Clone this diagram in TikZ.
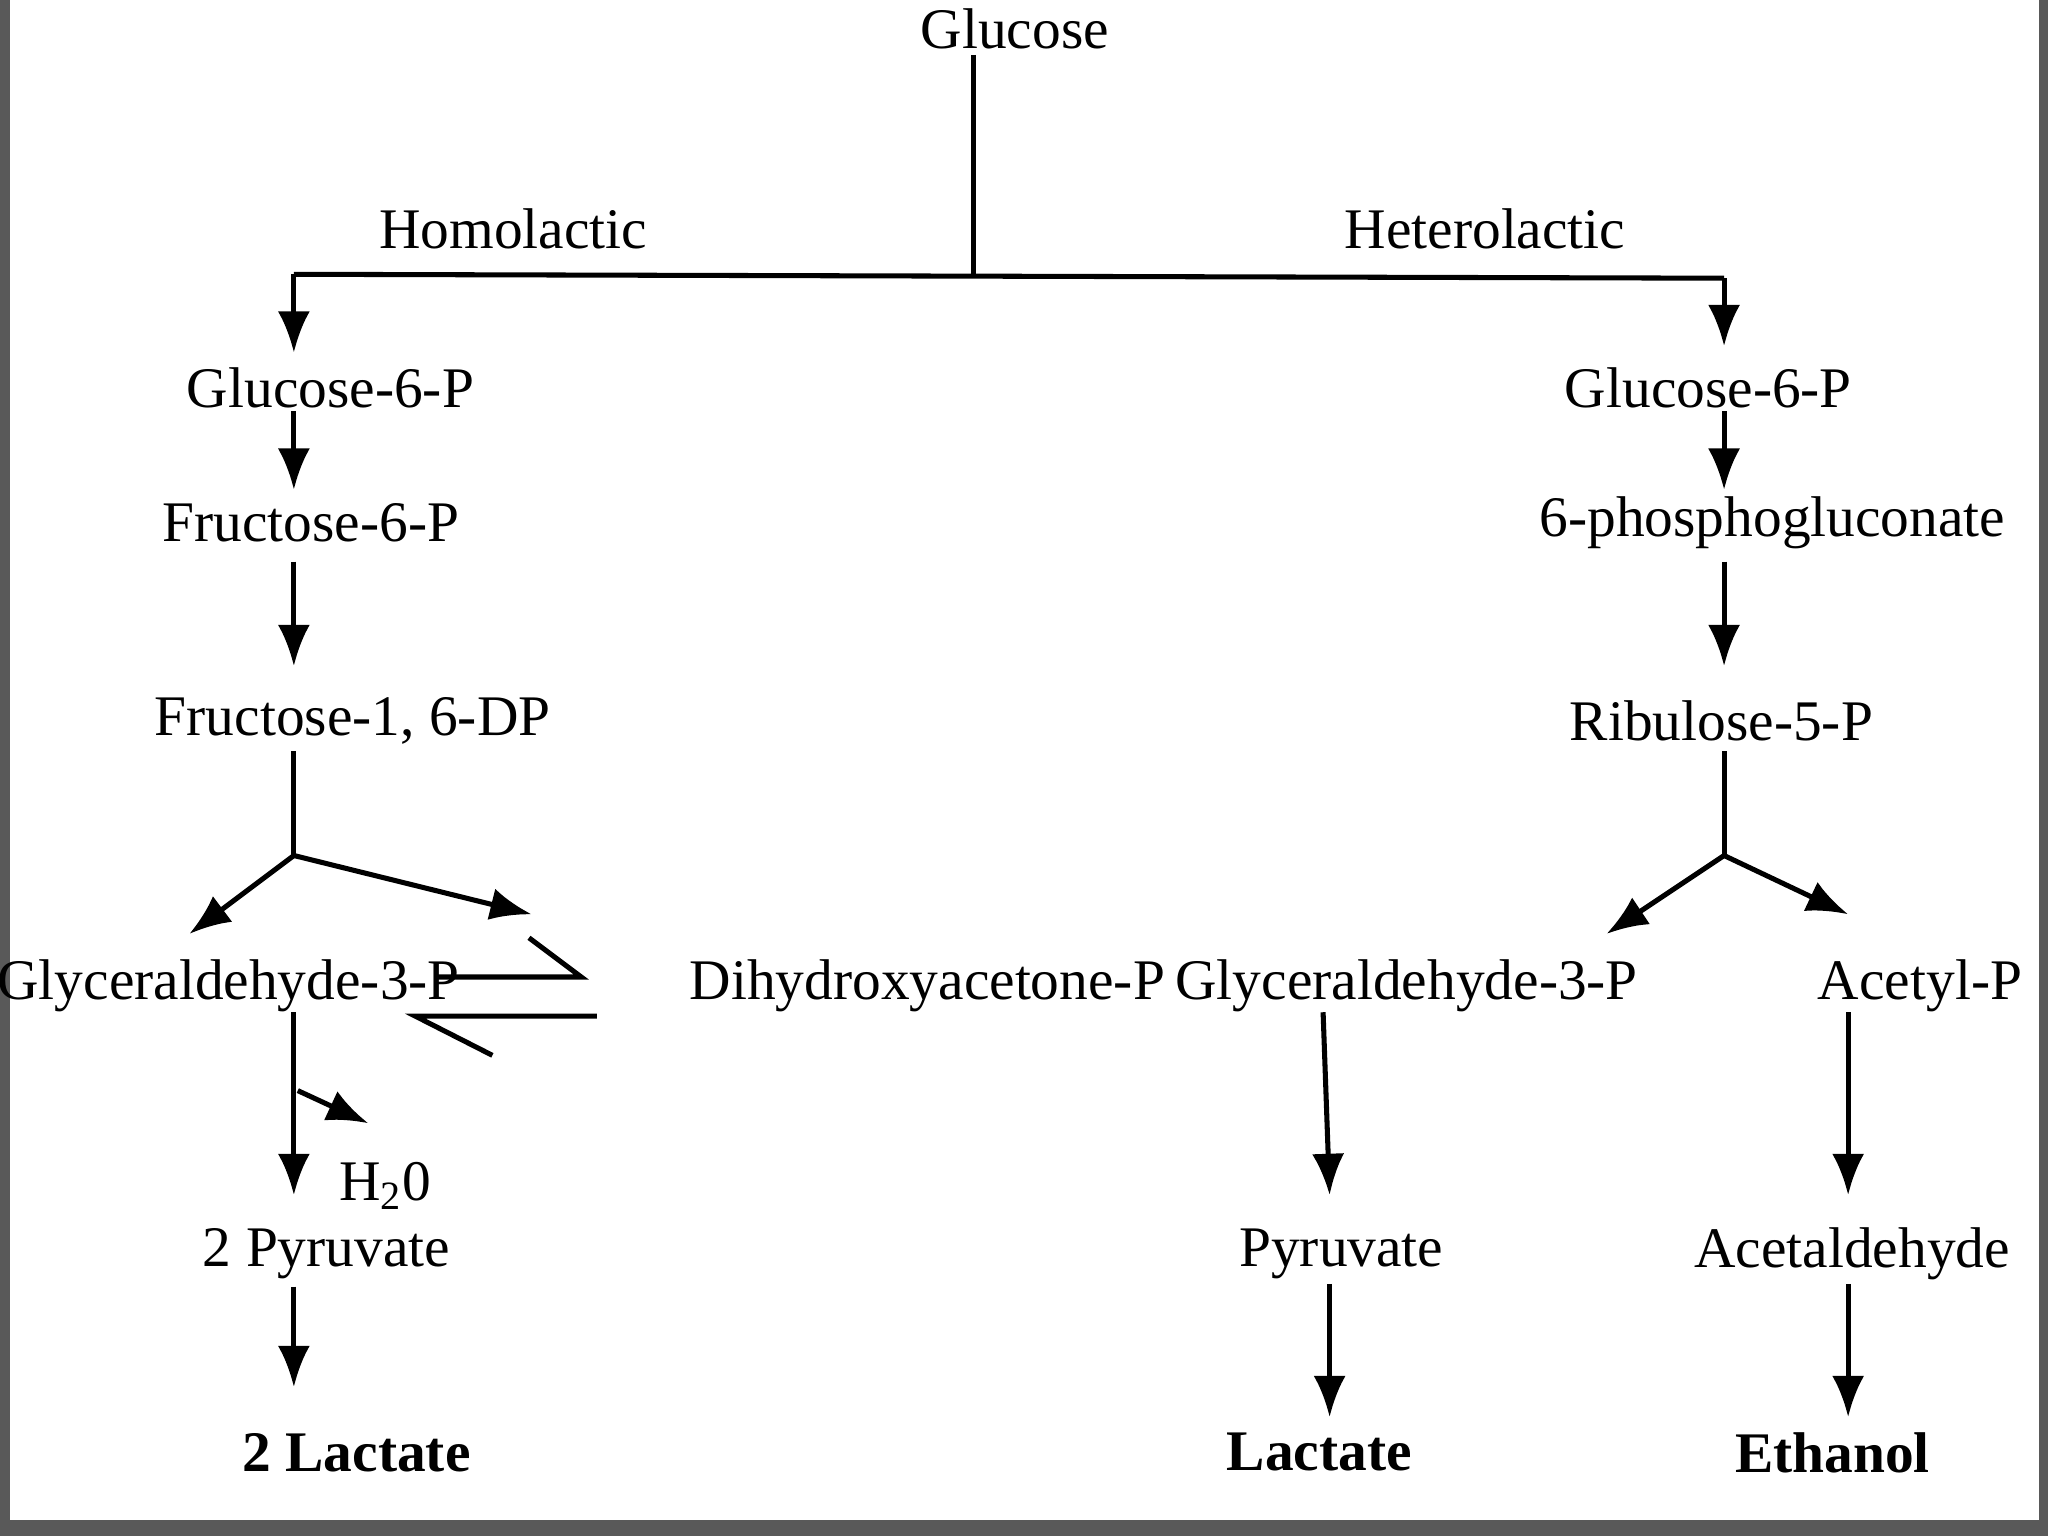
\documentclass[tikz,border=0pt]{standalone}
\usepackage{fontspec}
\setmainfont{Liberation Serif}
\usetikzlibrary{arrows.meta}
\begin{document}
\begin{tikzpicture}[x=0.01cm,y=-0.01cm,
  lbl/.style={inner sep=0pt,font=\fontsize{12.5}{14}\selectfont},
  blbl/.style={lbl,font=\fontsize{12.5}{14}\selectfont\bfseries},
  ln/.style={line width=1.1pt},
  arr/.style={ln,-{Latex[length=9pt,width=7pt]}}]
\useasboundingbox (0,0) rectangle (1568,1176);
\fill[white] (0,0) rectangle (1568,1176);
\fill[black!65] (0,0) rectangle (8,1176);
\fill[black!65] (0,1164) rectangle (1568,1176);
\fill[black!65] (1561,0) rectangle (1568,1176);
% labels
\node[lbl] (glc) at (777,22) {Glucose};
\node[lbl] (homo) at (393,175) {Homolactic};
\node[lbl] (hetero) at (1137,175) {Heterolactic};
\node[lbl] (g6pL) at (253,297) {Glucose-6-P};
\node[lbl] (f6p) at (238,400) {Fructose-6-P};
\node[lbl] (fdp) at (270,552) {Fructose-1, 6-DP};
\node[lbl] (gapL) at (175,755) {Glyceraldehyde-3-P};
\node[lbl] (dhap) at (710,755) {Dihydroxyacetone-P};
\node[lbl] (h2o) at (295,908) {H\textsubscript{2}0};
\node[lbl] (pyrL) at (250,960) {2 Pyruvate};
\node[blbl] (lacL) at (273,1112) {2 Lactate};
\node[lbl] (g6pR) at (1308,297) {Glucose-6-P};
\node[lbl] (pg) at (1357,400) {6-phosphogluconate};
\node[lbl] (ru5p) at (1318,552) {Ribulose-5-P};
\node[lbl] (gapR) at (1077,755) {Glyceraldehyde-3-P};
\node[lbl] (acp) at (1470,755) {Acetyl-P};
\node[lbl] (pyrR) at (1027,960) {Pyruvate};
\node[lbl] (acald) at (1418,960) {Acetaldehyde};
\node[blbl] (lacR) at (1010,1112) {Lactate};
\node[blbl] (eth) at (1403,1112) {Ethanol};
% coordinates
\coordinate (top) at (745,42);
\coordinate (mid) at (745,212);
\coordinate (hl) at (225,210);
\coordinate (hr) at (1320,213);
\draw[ln] (top) -- (mid);
\draw[ln] (hl) -- (hr);
\draw[arr] (hl) -- (225,270);
\draw[arr] (hr) -- (1320,265);
% left
\draw[arr] (225,315) -- (225,375);
\draw[arr] (225,430) -- (225,510);
\coordinate (bL) at (225,655);
\draw[ln] (225,575) -- (bL);
\draw[arr] (bL) -- (145,715);
\draw[arr] (bL) -- (407,700);
\draw[ln] (335,748) -- (445,748) -- (405,718);
\draw[ln] (457,778) -- (318,778) -- (377,808);
\draw[arr] (225,775) -- (225,915);
\draw[arr] (228,835) -- (282,860);
\draw[arr] (225,985) -- (225,1062);
% right
\draw[arr] (1320,315) -- (1320,375);
\draw[arr] (1320,430) -- (1320,510);
\coordinate (bR) at (1320,655);
\draw[ln] (1320,575) -- (bR);
\draw[arr] (bR) -- (1230,715);
\draw[arr] (bR) -- (1415,700);
\draw[arr] (1013,775) -- (1018,915);
\draw[arr] (1018,983) -- (1018,1085);
\draw[arr] (1415,775) -- (1415,915);
\draw[arr] (1415,983) -- (1415,1085);
\end{tikzpicture}
\end{document}
